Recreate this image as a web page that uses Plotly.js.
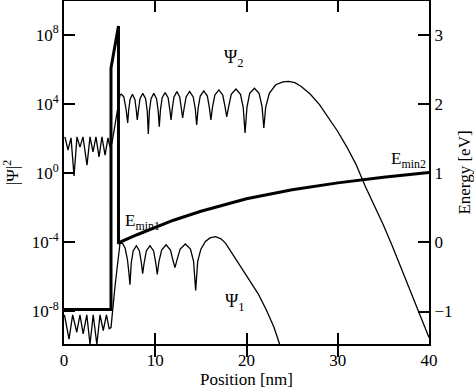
<!DOCTYPE html>
<html>
<head>
<meta charset="utf-8">
<script src="https://cdn.plot.ly/plotly-3.0.1.min.js"></script>
<style>html,body{margin:0;padding:0;background:#fff;}#chart{width:474px;height:390px;}</style>
</head>
<body>
<div id="chart"></div>
<script>
// Energy band (right axis, eV)
const bandX = [0, 5.15, 5.15, 5.97, 5.97, 6.1, 8, 10, 12, 15, 20, 25, 30, 35, 40];
const bandE = [-0.97, -0.97, 2.52, 3.13, -0.02, 0.0, 0.11, 0.22, 0.32, 0.45, 0.63, 0.76, 0.86, 0.94, 1.01];

// |Psi2|^2 : position [nm] and log10 exponent
const psi2X = [0.1,0.44,0.77,1.1,1.42,1.75,2.08,2.52,2.85,3.18,3.5,3.84,4.16,4.5,4.82,5.04,5.26,5.7,6.14,
  6.3,6.55,6.8,6.98,
  7.08,7.24,7.5,7.77,7.93,8.03,
  8.15,8.33,8.63,8.94,9.12,9.24,
  9.36,9.54,9.84,10.14,10.32,10.44,
  10.57,10.76,11.08,11.41,11.6,11.73,
  11.86,12.05,12.37,12.68,12.87,13.0,
  13.15,13.38,13.77,14.16,14.39,14.54,
  14.7,14.93,15.32,15.71,15.94,16.1,
  16.27,16.53,16.97,17.4,17.66,17.83,
  18.03,18.33,18.84,19.34,19.64,19.84,
  20.05,20.35,20.87,21.38,21.7,21.9,
  22.1,22.5,23.2,24.0,24.6,25.3,26,27,28,29,30,31,32,33,34.1,35,36,37,38,39,40];
const psi2Exp = [2.09,1.33,2.03,-0.17,2.09,1.5,2.09,0.46,2.09,1.22,2.09,0.93,2.09,1.04,2.03,1.5,1.74,3.19,4.52,
  4.55,4.4,3.7,2.9,
  3.6,4.25,4.55,4.25,3.6,3.07,
  3.6,4.3,4.6,4.3,3.6,2.26,
  3.6,4.3,4.6,4.3,3.6,2.67,
  3.65,4.35,4.65,4.35,3.65,3.07,
  3.7,4.4,4.7,4.4,3.7,3.19,
  3.7,4.4,4.72,4.4,3.7,2.78,
  3.75,4.45,4.75,4.45,3.75,3.07,
  3.8,4.5,4.8,4.5,3.8,3.25,
  3.8,4.55,4.85,4.55,3.8,2.32,
  3.8,4.6,4.9,4.6,3.85,2.6,
  3.8,4.6,5.1,5.27,5.3,5.22,5.0,4.55,3.95,3.2,2.4,1.5,0.5,-0.75,-1.97,-3.0,-4.25,-5.55,-6.85,-8.15,-9.5];

// |Psi1|^2
const psi1X = [0.05,0.55,0.95,1.4,1.75,2.1,2.5,2.85,3.2,3.6,3.95,4.3,4.65,4.95,5.15,5.6,6.14,
  6.4,6.7,6.95,7.1,7.23,
  7.37,7.58,7.93,8.27,8.48,8.62,
  8.78,9.02,9.42,9.82,10.06,10.22,
  10.41,10.7,11.19,11.67,11.97,12.16,
  12.39,12.73,13.3,13.86,14.2,14.43,
  14.65,15.0,15.5,16.0,16.6,17.2,17.7,18.2,19.3,20.4,21.3,22.2,23.0,23.56,23.7];
const psi1Exp = [-8.2,-9.6,-8.2,-9.2,-8.2,-9.3,-8.2,-9.9,-8.2,-9.9,-8.2,-9.1,-8.2,-9.0,-8.93,-6.5,-4.06,
  -4.05,-4.35,-5.0,-5.7,-6.45,
  -5.2,-4.5,-4.2,-4.5,-5.2,-5.81,
  -5.2,-4.5,-4.2,-4.5,-5.2,-5.86,
  -5.1,-4.45,-4.15,-4.45,-5.1,-5.47,
  -5.0,-4.4,-4.1,-4.4,-5.1,-6.78,
  -5.1,-4.4,-3.95,-3.75,-3.68,-3.8,-4.05,-4.46,-5.3,-6.2,-7.0,-7.94,-8.9,-9.78,-10.0];

const xTicks = [0, 10, 20, 30, 40];
const yTickVals = [1e-8, 1e-4, 1, 1e4, 1e8];
const yTickText = ['10<sup>-8</sup>', '10<sup>-4</sup>', '10<sup>0</sup>', '10<sup>4</sup>', '10<sup>8</sup>'];
const y2Ticks = [-1, 0, 1, 2, 3];

const toVal = a => a.map(e => Math.pow(10, e));
const FONT = 'Liberation Serif';

const traces = [
  {x: psi2X, y: toVal(psi2Exp), type: 'scatter', mode: 'lines', line: {color: '#000', width: 1.3}, yaxis: 'y', hoverinfo: 'skip'},
  {x: psi1X, y: toVal(psi1Exp), type: 'scatter', mode: 'lines', line: {color: '#000', width: 1.3}, yaxis: 'y', hoverinfo: 'skip'},
  {x: bandX, y: bandE, type: 'scatter', mode: 'lines', line: {color: '#000', width: 3}, yaxis: 'y2', hoverinfo: 'skip'}
];

const layout = {
  width: 474, height: 390,
  margin: {l: 64, r: 45, t: 1, b: 46},
  paper_bgcolor: '#fff', plot_bgcolor: '#fff',
  showlegend: false,
  font: {family: FONT, size: 16, color: '#000'},
  xaxis: {
    range: [0, 40], tickvals: xTicks, ticks: 'inside', ticklen: 11, tickwidth: 2, tickcolor: '#000',
    showline: true, linecolor: '#000', linewidth: 2, mirror: 'allticks', showgrid: false, zeroline: false,
    tickfont: {family: FONT, size: 17}, title: {text: 'Position [nm]', font: {family: FONT, size: 17}, standoff: 4}
  },
  yaxis: {
    type: 'log', range: [-9.88, 9.94], tickvals: yTickVals, ticktext: yTickText,
    ticks: 'inside', ticklen: 11, tickwidth: 2, tickcolor: '#000',
    showline: true, linecolor: '#000', linewidth: 2, showgrid: false, zeroline: false,
    tickfont: {family: FONT, size: 17}, title: {text: '|Ψ|<sup>2</sup>', font: {family: FONT, size: 17}, standoff: 10}
  },
  yaxis2: {
    overlaying: 'y', side: 'right', range: [-1.47, 3.49], tickvals: y2Ticks,
    ticks: 'inside', ticklen: 11, tickwidth: 2, tickcolor: '#000',
    showline: true, linecolor: '#000', linewidth: 2, showgrid: false, zeroline: false,
    tickfont: {family: FONT, size: 17}, title: {text: 'Energy [eV]', font: {family: FONT, size: 17}, standoff: 10}
  },
  annotations: [
    {x: 18.6, y: 6.6, xref: 'x', yref: 'y', text: 'Ψ<sub>2</sub>', showarrow: false, font: {family: FONT, size: 18}},
    {x: 18.7, y: -7.48, xref: 'x', yref: 'y', text: 'Ψ<sub>1</sub>', showarrow: false, font: {family: FONT, size: 18}},
    {x: 8.55, y: -2.84, xref: 'x', yref: 'y', text: 'E<sub>min1</sub>', showarrow: false, font: {family: FONT, size: 17}},
    {x: 37.8, y: 0.75, xref: 'x', yref: 'y', text: 'E<sub>min2</sub>', showarrow: false, font: {family: FONT, size: 17}}
  ]
};

Plotly.newPlot('chart', traces, layout, {displayModeBar: false, staticPlot: true});
</script>
</body>
</html>
